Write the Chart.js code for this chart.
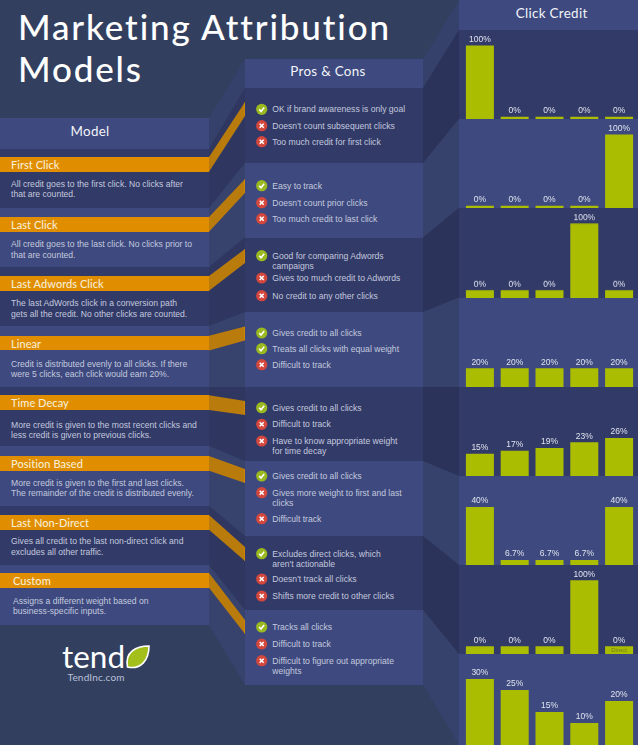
<!DOCTYPE html>
<html><head><meta charset="utf-8">
<script src="https://cdn.jsdelivr.net/npm/chart.js@4"></script>
<style>
html,body{margin:0;padding:0;background:#333f5f;overflow:hidden}
#w{position:relative;width:638px;height:745px;overflow:hidden;background:#333f5f;filter:blur(.35px)}
#w>*{position:absolute}
svg{left:0;top:0}
.t{white-space:nowrap;line-height:1}
.h{font-family:Lato,sans-serif;font-size:13.4px;color:#f2f4f9;transform:translateX(-50%);letter-spacing:.3px}
.n{font-family:Lato,sans-serif;font-size:11px;font-weight:500;color:#f7ecd6;letter-spacing:.05px;left:11px}
.d{font-family:"Liberation Sans",sans-serif;font-size:8.6px;color:#c3c9de}
canvas{position:absolute}
</style></head><body><div id="w"></div>
<script>
const clickPositions=['Click 1','Click 2','Click 3','Click 4','Click 5'];
const firstClick=[100,0,0,0,0];
const lastClick=[0,0,0,0,100];
const lastAdwordsClick=[0,0,0,100,0];
const linear=[20,20,20,20,20];
const timeDecay=[15,17,19,23,26];
const positionBased=[40,6.7,6.7,6.7,40];
const lastNonDirect=[0,0,0,100,0];
const custom=[30,25,15,10,20];
const modelNames=['First Click','Last Click','Last Adwords Click','Linear','Time Decay','Position Based','Last Non-Direct','Custom'];
const modelDescriptions=[
['All credit goes to the first click. No clicks after','that are counted.'],
['All credit goes to the last click. No clicks prior to','that are counted.'],
['The last AdWords click in a conversion path','gets all the credit. No other clicks are counted.'],
['Credit is distributed evenly to all clicks. If there','were 5 clicks, each click would earn 20%.'],
['More credit is given to the most recent clicks and','less credit is given to previous clicks.'],
['More credit is given to the first and last clicks.','The remainder of the credit is distributed evenly.'],
['Gives all credit to the last non-direct click and','excludes all other traffic.'],
['Assigns a different weight based on','business-specific inputs.']];
const prosCons=[
[['+','OK if brand awareness is only goal',109.3],['-',"Doesn't count subsequent clicks",125.7],['-','Too much credit for first click',141.7]],
[['+','Easy to track',185.7],['-',"Doesn't count prior clicks",202.7],['-','Too much credit to last click',218.7]],
[['+','Good for comparing Adwords|campaigns',255.7],['-','Gives too much credit to Adwords',278],['-','No credit to any other clicks',295.7]],
[['+','Gives credit to all clicks',333],['+','Treats all clicks with equal weight',348.7],['-','Difficult to track',364.7]],
[['+','Gives credit to all clicks',407.7],['-','Difficult to track',424.3],['-','Have to know appropriate weight|for time decay',441]],
[['+','Gives credit to all clicks',476],['-','Gives more weight to first and last|clicks',492.7],['-','Difficult track',518.7]],
[['+',"Excludes direct clicks, which|aren't actionable",553.7],['-',"Doesn't track all clicks",579],['-','Shifts more credit to other clicks',596]],
[['+','Tracks all clicks',627],['-','Difficult to track',644],['-','Difficult to figure out appropriate|weights',660.7]]];

const W=document.getElementById('w');
const DARK='#323a68',LIGHT='#3e4a7f';
function box(x,y,w,h,c){const d=document.createElement('div');d.style.cssText=`left:${x}px;top:${y}px;width:${w}px;height:${h}px;background:${c}`;W.appendChild(d);}
function txt(s,x,y,cls,extra){const d=document.createElement('div');d.className='t '+cls;d.textContent=s;d.style.cssText=`left:${x}px;top:${y}px;`+(extra||'');W.appendChild(d);return d;}

let svg='<svg width="638" height="745" xmlns="http://www.w3.org/2000/svg">';
const leftB=[118,149,208,267,326,387,446,506,565,625];
const midB=[59,88,163,237.5,312,387,461,536,610,685];
const rightB=[0,30,119,208,297.5,387,476,565,654,745];
const gapL=['#35416a','#2f3760','#37426d','#2f3760','#37426d','#2f3760','#37426d','#2f3760','#37426d'];
const gapR=['#35416a','#2c335a','#36416c','#2c335a','#36416c','#2c335a','#36416c','#2c335a','#36416c'];
for(let i=0;i<9;i++){
 svg+=`<polygon fill="${gapL[i]}" points="209,${leftB[i]} 245,${midB[i]} 245,${midB[i+1]} 209,${leftB[i+1]}"/>`;
 svg+=`<polygon fill="${gapR[i]}" points="423,${midB[i]} 459,${rightB[i]} 459,${rightB[i+1]} 423,${midB[i+1]}"/>`;
}
const orangeTop=[157,217,276,335.7,395.3,456,515,573];
const headTop=[102,179,249,326.5,401,469,547,620];
orangeTop.forEach((y,i)=>{const h=headTop[i];
 svg+=`<polygon fill="#b87b0c" points="209,${y} 245,${h} 245,${h+14} 209,${y+14.7}"/>`;
 svg+=`<polygon fill="#e08e00" points="244.5,${h} 250,${h+7} 244.5,${h+14}"/>`;
});
svg+='</svg>';
W.insertAdjacentHTML('beforeend',svg);

for(let i=0;i<9;i++){
 const c=i%2?DARK:LIGHT;
 box(0,leftB[i],209,leftB[i+1]-leftB[i],c);
 box(245,midB[i],178,midB[i+1]-midB[i],c);
 box(459,rightB[i],179,rightB[i+1]-rightB[i],c);
}
const descY=[[184,194],[244.3,254.7],[303.3,313.7],[364,374.3],[425,435],[483,493.3],[541.3,551.7],[601,611]];
modelNames.forEach((n,i)=>{
 box(0,orangeTop[i],209,14.7,'#e08e00');
 txt(n,i===7?13:11,orangeTop[i]+1.8,'n');
 modelDescriptions[i].forEach((l,j)=>txt(l,i===7?13:11,descY[i][j]-4.2,'d'));
});
txt('Marketing Attribution',18,9,'', 'font-family:Lato,sans-serif;font-size:35px;font-weight:500;color:#fff;letter-spacing:1.85px');
txt('Models',18,51,'', 'font-family:Lato,sans-serif;font-size:35px;font-weight:500;color:#fff;letter-spacing:1.85px');
txt('Model',90,125,'h');txt('Pros & Cons',328,65,'h');txt('Click Credit',551.7,6.5,'h');
let ic='<svg width="638" height="745" xmlns="http://www.w3.org/2000/svg">';
prosCons.forEach(p=>p.forEach(([k,s,y])=>{
 ic+=`<circle cx="261.7" cy="${y}" r="5.6" fill="${k==='+'?'#9ab81f':'#d3473d'}"/>`;
 ic+=k==='+'?`<path d="M259.2 ${y} l1.8 2.1 l3.2 -4" fill="none" stroke="#fff" stroke-width="1.6"/>`
 :`<path d="M259.7 ${y-2} l4 4 m0 -4 l-4 4" fill="none" stroke="#fff" stroke-width="1.6"/>`;
 s.split('|').forEach((l,j)=>txt(l,272.3,y-3.9+j*10.3,'d'));
}));
ic+='<path d="M127.5 667 C124.5 652 136 646 149 646 C149 660 141 670 127.5 667 Z" fill="#a3bf1c" stroke="#fff" stroke-width="1.6"/>';
ic+='</svg>';
W.insertAdjacentHTML('beforeend',ic);
txt('tend',62,641,'','font-family:Lato,sans-serif;font-size:31.5px;color:#fff');
txt('TendInc.com',67.5,671.5,'','font-family:Lato,sans-serif;font-size:10px;color:#b9c1d9;letter-spacing:.2px');

// each panel has its own value-axis range because the reference scales them separately
const panels=[
 [firstClick,-3.23,121.8],[lastClick,-3.23,121.8],[lastAdwordsClick,-11.7,123.2],[linear,0,95],
 [timeDecay,-.63,61.6],[positionBased,3.55,59.5],[lastNonDirect,-11.7,123.2],[custom,0,41.4]];
const labelPlugin={id:'valueLabels',afterDatasetsDraw(ch){
 const c=ch.ctx,m=ch.getDatasetMeta(0);c.save();
 c.font='8.5px "Liberation Sans"';c.fillStyle='#dfe3ee';c.textAlign='center';c.textBaseline='alphabetic';
 m.data.forEach((b,i)=>c.fillText(ch.data.datasets[0].data[i]+'%',b.x,b.y-3.6));
 if(ch.options.plugins.directNote){c.font='6px "Liberation Sans"';c.fillStyle='#6f7c22';c.textBaseline='middle';
  const b=m.data[4];c.fillText('Direct',b.x,b.y+3.8);}
 c.restore();}};
panels.forEach(([vals,min,max],i)=>{
 const cv=document.createElement('canvas');
 const top=rightB[i+1],h=rightB[i+2]-rightB[i+1];
 cv.style.cssText=`left:459px;top:${top}px;width:179px;height:${h}px`;
 cv.width=179;cv.height=h;W.appendChild(cv);
 new Chart(cv,{type:'bar',
  data:{labels:clickPositions,datasets:[{data:vals,backgroundColor:'#abbd00',base:min,barPercentage:.805,categoryPercentage:1}]},
  options:{responsive:false,animation:false,events:[],
   layout:{padding:{left:3.5,right:1.5,top:0,bottom:0}},
   plugins:{legend:{display:false},tooltip:{enabled:false},directNote:i===6},
   scales:{x:{display:false},y:{display:false,min,max}}},
  plugins:[labelPlugin]});
});
</script></body></html>
